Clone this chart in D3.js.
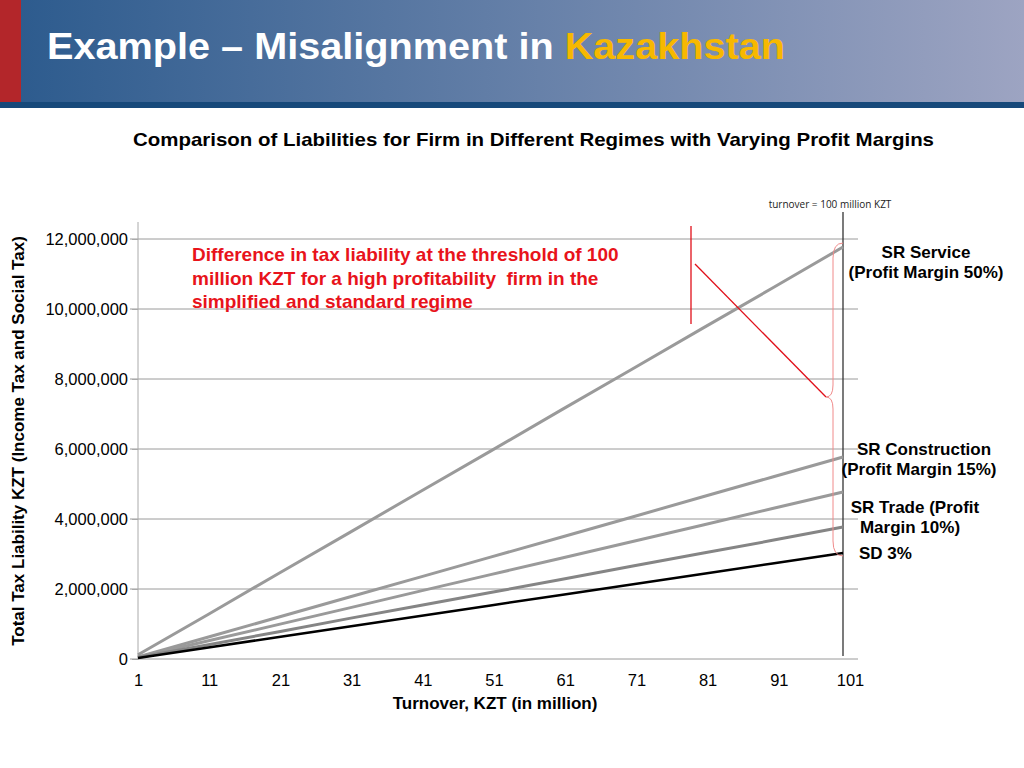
<!DOCTYPE html>
<html>
<head>
<meta charset="utf-8">
<script src="https://cdn.jsdelivr.net/npm/d3@7"></script>
<style>
  body { margin: 0; background: #fff; }
  svg { display: block; font-family: "Liberation Sans", Arial, sans-serif; }
</style>
</head>
<body>
<div id="chart"></div>
<script>
// turnover categories (million KZT) and tax liability (KZT) read at those points
const turnover = [1, 11, 21, 31, 41, 51, 61, 71, 81, 91, 101];
const srService      = [120000, 1280000, 2450000, 3610000, 4780000, 5940000, 7110000, 8270000, 9440000, 10600000, 11770000];
const srConstruction = [60000, 630000, 1200000, 1770000, 2340000, 2910000, 3480000, 4050000, 4630000, 5200000, 5770000];
const srTrade        = [50000, 520000, 990000, 1460000, 1940000, 2410000, 2880000, 3350000, 3820000, 4300000, 4770000];
const srOther        = [40000, 410000, 780000, 1160000, 1530000, 1900000, 2270000, 2650000, 3020000, 3390000, 3770000];
const sd3            = [30000, 330000, 630000, 930000, 1230000, 1530000, 1830000, 2130000, 2430000, 2730000, 3030000];
const yTicks = [0, 2000000, 4000000, 6000000, 8000000, 10000000, 12000000];

const series = [
    {name: "SR Service", values: srService, color: "#9a9a9a", w: 3},
    {name: "SR Construction", values: srConstruction, color: "#9a9a9a", w: 3},
    {name: "SR Trade", values: srTrade, color: "#9a9a9a", w: 3},
    {name: "SR other", values: srOther, color: "#858585", w: 3},
    {name: "SD 3%", values: sd3, color: "#000", w: 2.5}
];

const svg = d3.select("#chart").append("svg")
    .attr("width", 1024)
    .attr("height", 768);

// header band
const grad = svg.append("defs").append("linearGradient")
    .attr("id", "hdr").attr("x1", "0%").attr("x2", "100%");
grad.append("stop").attr("offset", "0%").attr("stop-color", "#2b5a8d");
grad.append("stop").attr("offset", "100%").attr("stop-color", "#9da4c2");
svg.append("rect").attr("x", 0).attr("y", 0).attr("width", 1024).attr("height", 102).attr("fill", "url(#hdr)");
svg.append("rect").attr("x", 0).attr("y", 0).attr("width", 21).attr("height", 102).attr("fill", "#b3262a");
svg.append("rect").attr("x", 0).attr("y", 102).attr("width", 1024).attr("height", 6).attr("fill", "#17497a");

const title = svg.append("text")
    .attr("x", 47).attr("y", 59)
    .attr("font-family", "'Liberation Sans', Arial, sans-serif")
    .attr("font-size", 37).attr("font-weight", "bold")
    .attr("textLength", 738).attr("lengthAdjust", "spacingAndGlyphs");
title.append("tspan").attr("fill", "#fff").text("Example – Misalignment in ");
title.append("tspan").attr("fill", "#f7b800").text("Kazakhstan");

svg.append("text")
    .attr("x", 133).attr("y", 146)
    .attr("font-family", "'Liberation Sans', Arial, sans-serif")
    .attr("font-size", 18.5).attr("font-weight", "bold")
    .attr("textLength", 801).attr("lengthAdjust", "spacingAndGlyphs")
    .text("Comparison of Liabilities for Firm in Different Regimes with Varying Profit Margins");

// scales
const x = d3.scaleLinear().domain([1, 101]).range([138, 843]);
const y = d3.scaleLinear().domain([0, 12000000]).range([659, 239]);

// gridlines
svg.append("g").selectAll("line")
    .data(yTicks.slice(1))
    .enter().append("line")
    .attr("x1", 130).attr("x2", 858)
    .attr("y1", d => y(d)).attr("y2", d => y(d))
    .attr("stroke", "#9a9a9a").attr("stroke-width", 1);

// y axis
const yAxis = d3.axisLeft(y).tickValues(yTicks).tickSize(6).tickFormat(d3.format(","));
const gy = svg.append("g").attr("transform", "translate(138,0)").call(yAxis);
gy.select(".domain").attr("stroke", "#aaa").attr("d", "M0,222V659");
gy.selectAll(".tick line").attr("stroke", "#aaa");
gy.selectAll(".tick text").attr("font-size", 16.5).attr("fill", "#000")
    .attr("font-family", "'Liberation Sans', Arial, sans-serif").attr("x", -10);

// x axis
const xAxis = d3.axisBottom(x).tickValues(turnover).tickSize(0).tickFormat(d3.format("d"));
const gx = svg.append("g").attr("transform", "translate(0,659)").call(xAxis);
gx.select(".domain").attr("stroke", "#9a9a9a").attr("d", "M130,0H858");
gx.selectAll(".tick text").attr("font-size", 16.5).attr("fill", "#000")
    .attr("font-family", "'Liberation Sans', Arial, sans-serif")
    .attr("y", 15)
    .attr("dx", (d, i) => (i * 0.7).toFixed(1));

// axis titles
svg.append("text")
    .attr("x", 495).attr("y", 709).attr("text-anchor", "middle")
    .attr("font-size", 17).attr("font-weight", "bold")
    .text("Turnover, KZT (in million)");
svg.append("text")
    .attr("transform", "translate(24,441) rotate(-90)")
    .attr("text-anchor", "middle")
    .attr("font-size", 17).attr("font-weight", "bold")
    .text("Total Tax Liability KZT (Income Tax and Social Tax)");

// threshold marker
svg.append("line")
    .attr("x1", x(101)).attr("x2", x(101)).attr("y1", 212).attr("y2", 656)
    .attr("stroke", "#333").attr("stroke-width", 1.3);
svg.append("text")
    .attr("x", 830).attr("y", 208).attr("text-anchor", "middle")
    .attr("font-family", "'Open Sans', 'DejaVu Sans', sans-serif")
    .attr("font-size", 10).attr("fill", "#222")
    .text("turnover = 100 million KZT");

// series lines
const line = d3.line()
    .x((d, i) => x(turnover[i]))
    .y(d => y(d));
svg.append("g").selectAll("path")
    .data(series)
    .enter().append("path")
    .attr("d", d => line(d.values))
    .attr("fill", "none")
    .attr("stroke", d => d.color)
    .attr("stroke-width", d => d.w);

// series labels
const labels = [
    {lines: ["SR Service", "(Profit Margin 50%)"], x: 926, y: 258, dx: [0, 0]},
    {lines: ["SR Construction", "(Profit Margin 15%)"], x: 924, y: 455, dx: [0, -5]},
    {lines: ["SR Trade (Profit", "Margin 10%)"], x: 915, y: 513, dx: [0, -5]}
];
labels.forEach(function (l) {
    l.lines.forEach(function (t, i) {
        svg.append("text")
            .attr("x", l.x + l.dx[i]).attr("y", l.y + i * 19.5)
            .attr("text-anchor", "middle")
            .attr("font-size", 17).attr("font-weight", "bold")
            .text(t);
    });
});
svg.append("text")
    .attr("x", 859).attr("y", 559)
    .attr("font-size", 17).attr("font-weight", "bold")
    .text("SD 3%");

// red annotation
const note = ["Difference in tax liability at the threshold of 100",
    "million KZT for a high profitability  firm in the",
    "simplified and standard regime"];
svg.append("g").selectAll("text")
    .data(note)
    .enter().append("text")
    .attr("x", 192).attr("y", (d, i) => 261 + i * 23.5)
    .attr("font-size", 19).attr("font-weight", "bold")
    .attr("fill", "#e8131b")
    .style("white-space", "pre")
    .text(d => d);

svg.append("line")
    .attr("x1", 691).attr("x2", 691).attr("y1", 226).attr("y2", 324)
    .attr("stroke", "#e0101a").attr("stroke-width", 1.3);
svg.append("line")
    .attr("x1", 695).attr("y1", 264).attr("x2", 826).attr("y2", 397)
    .attr("stroke", "#e0101a").attr("stroke-width", 1.3);

// brace between SR Service and SD 3% at the threshold
const bx = x(101), braceTop = y(srService[10]) - 4, braceBot = y(sd3[10]) + 3;
const brace = d3.path();
brace.moveTo(bx, braceTop);
brace.quadraticCurveTo(833, braceTop, 833, braceTop + 15);
brace.lineTo(833, 385);
brace.quadraticCurveTo(833, 397, 826, 397);
brace.quadraticCurveTo(833, 397, 833, 409);
brace.lineTo(833, braceBot - 15);
brace.quadraticCurveTo(833, braceBot, bx, braceBot);
svg.append("path")
    .attr("d", brace.toString())
    .attr("fill", "none")
    .attr("stroke", "#f08a8a").attr("stroke-width", 1);
</script>
</body>
</html>
